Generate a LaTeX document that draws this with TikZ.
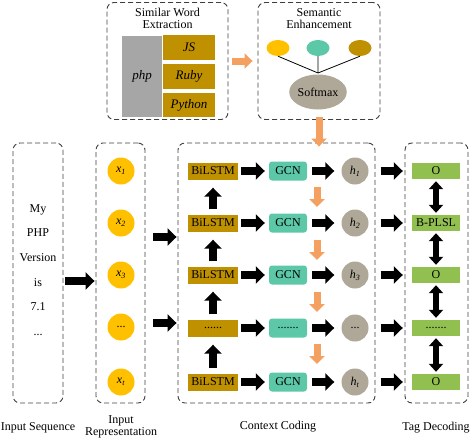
\documentclass[tikz,border=0pt]{standalone}
\usepackage{fontspec}
\setmainfont{Liberation Serif}
\usetikzlibrary{arrows.meta,shapes.geometric}
\definecolor{gold}{HTML}{BF9000}
\definecolor{yel}{HTML}{FFC000}
\definecolor{tealc}{HTML}{5CC8A8}
\definecolor{hgray}{HTML}{AFA797}
\definecolor{tgreen}{HTML}{92C050}
\definecolor{org}{HTML}{F4A060}
\definecolor{phpgray}{HTML}{A6A6A6}
\begin{document}
\begin{tikzpicture}[x=1pt,y=-1pt,font=\fontsize{12}{14}\selectfont,
 dbox/.style={draw=black!75,dash pattern=on 5pt off 3pt,rounded corners=7pt,line width=0.9pt,inner sep=0pt},
 goldbox/.style={fill=gold,minimum width=50,minimum height=17,inner sep=0pt},
 gcnbox/.style={fill=tealc,rounded corners=3pt,minimum width=38,minimum height=19,inner sep=0pt},
 tagbox/.style={fill=tgreen,minimum width=48,minimum height=16,inner sep=0pt},
 incirc/.style={circle,fill=yel,minimum size=27,inner sep=0pt},
 hcirc/.style={circle,fill=hgray,minimum size=27,inner sep=0pt},
 blk/.style={line width=8pt,-{Triangle[length=9pt,width=17pt]}},
 blkd/.style={line width=6pt,{Triangle[length=8pt,width=14pt]}-{Triangle[length=8pt,width=14pt]}},
 orng/.style={draw=org,line width=7pt,-{Triangle[length=8pt,width=15pt]},org},
 lbl/.style={align=center,font=\fontsize{12}{14}\selectfont}
]
\useasboundingbox (0,0) rectangle (474,442);

% top boxes
\node[dbox,minimum width=121,minimum height=117] (sim) at (167.5,61) {};
\node[lbl,anchor=north] (simt) at (167.5,5) {Similar Word\\[-2pt]Extraction};
\node[fill=phpgray,minimum width=40,minimum height=81,inner sep=0pt] (php) at (142,76) {\itshape\fontsize{13}{15}\selectfont php};
\node[goldbox,minimum width=52,minimum height=25] (js) at (189,47.5) {\itshape\fontsize{13}{15}\selectfont JS};
\node[goldbox,minimum width=52,minimum height=25] (ruby) at (189,76.5) {\itshape\fontsize{13}{15}\selectfont Ruby};
\node[goldbox,minimum width=52,minimum height=24] (python) at (189,105) {\itshape\fontsize{13}{15}\selectfont Python};

\node[dbox,minimum width=122,minimum height=117] (sem) at (319,61) {};
\node[lbl,anchor=north] (semt) at (319,5) {Semantic\\[-2pt]Enhancement};
\node[ellipse,fill=yel,minimum width=23,minimum height=16,inner sep=0pt] (e1) at (278,48) {};
\node[ellipse,fill=tealc,minimum width=23,minimum height=16,inner sep=0pt] (e2) at (318,48) {};
\node[ellipse,fill=gold,minimum width=23,minimum height=16,inner sep=0pt] (e3) at (360,48) {};
\node[ellipse,fill=hgray,minimum width=55,minimum height=35,inner sep=0pt] (soft) at (318,92) {Softmax};
\coordinate (jn) at (318,73);
\draw[line width=0.8pt] (e1.south) -- (jn) (e2.south) -- (jn) (e3.south) -- (jn);

\draw[orng] ([xshift=4pt]sim.east) -- ([xshift=-5pt]sem.west);

% bottom dashed boxes
\node[dbox,minimum width=50,minimum height=260] (seq) at (38,273) {};
\node[dbox,minimum width=49,minimum height=260] (rep) at (120.5,273) {};
\node[dbox,minimum width=197,minimum height=260] (ctx) at (276.5,273) {};
\node[dbox,minimum width=63,minimum height=260] (tag) at (436.5,273) {};

\draw[orng] ([yshift=3pt]sem.south) -- ([yshift=-4pt]ctx.north -| sem.south);

% input sequence text
\node[align=center,font=\fontsize{12}{24.6}\selectfont] (words) at (38,270) {My\\PHP\\Version\\is\\7.1\\...};

\node[incirc] (x1) at (121,171) {\itshape x\textsubscript{1}};
\node[incirc] (x2) at (121,223) {\itshape x\textsubscript{2}};
\node[incirc] (x3) at (121,275) {\itshape x\textsubscript{3}};
\node[incirc] (x4) at (121,327) {...};
\node[incirc] (x5) at (121,382) {\itshape x\textsubscript{t}};

\node[goldbox] (b1) at (213,171) {BiLSTM};
\node[goldbox] (b2) at (213,223) {BiLSTM};
\node[goldbox] (b3) at (213,275) {BiLSTM};
\node[goldbox] (b4) at (213,328) {......};
\node[goldbox] (b5) at (213,382) {BiLSTM};

\node[gcnbox] (g1) at (288,171) {GCN};
\node[gcnbox] (g2) at (288,223) {GCN};
\node[gcnbox] (g3) at (288,275) {GCN};
\node[gcnbox] (g4) at (288,328) {.......};
\node[gcnbox] (g5) at (288,382) {GCN};

\node[hcirc] (h1) at (355,171) {\itshape h\textsubscript{1}};
\node[hcirc] (h2) at (355,223) {\itshape h\textsubscript{2}};
\node[hcirc] (h3) at (355,275) {\itshape h\textsubscript{3}};
\node[hcirc] (h4) at (355,328) {...};
\node[hcirc] (h5) at (355,382) {\itshape h\textsubscript{t}};

\node[tagbox] (t1) at (436,171) {O};
\node[tagbox] (t2) at (436,223) {B-PLSL};
\node[tagbox] (t3) at (436,275) {O};
\node[tagbox] (t4) at (436,328) {.......};
\node[tagbox] (t5) at (436,382) {O};

% arrows
\coordinate (a0) at (0,281);
\coordinate (a1) at (0,237);
\coordinate (a2) at (0,323);
\draw[blk] ([xshift=2pt]seq.east |- a0) -- ([xshift=-1pt]rep.west |- a0);
\draw[blk] ([xshift=8pt]rep.east |- a1) -- ([xshift=-1pt]ctx.west |- a1);
\draw[blk] ([xshift=8pt]rep.east |- a2) -- ([xshift=-1pt]ctx.west |- a2);

\foreach \i in {1,...,5}{
  \draw[blk,shorten <=3pt,shorten >=4pt] (b\i.east) -- (g\i.west);
  \draw[blk,shorten <=5pt,shorten >=7pt] (g\i.east) -- (h\i.west);
  \draw[blk,shorten <=12pt,shorten >=9pt] (h\i.east) -- (t\i.west);
}
\foreach \i/\j in {2/1,3/2,4/3,5/4}{
  \draw[blk,shorten <=5pt,shorten >=8pt] (b\i.north) -- (b\j.south);
  \draw[blkd,shorten <=2pt,shorten >=2pt] (t\j.south) -- (t\i.north);
}
\foreach \j/\ya/\yb in {1/187/207,2/240/260,3/292/312,4/344/364}{
  \coordinate (os\j) at (317,\ya);
  \coordinate (oe\j) at (317,\yb);
  \draw[orng] (os\j) -- (oe\j);
}

% labels
\node[lbl] (l1) at (38,428) {Input Sequence};
\node[lbl] (l2) at (121,427) {Input\\[-2pt]Representation};
\node[lbl] (l3) at (278,427) {Context Coding};
\node[lbl] (l4) at (436,428) {Tag Decoding};
\end{tikzpicture}
\end{document}
